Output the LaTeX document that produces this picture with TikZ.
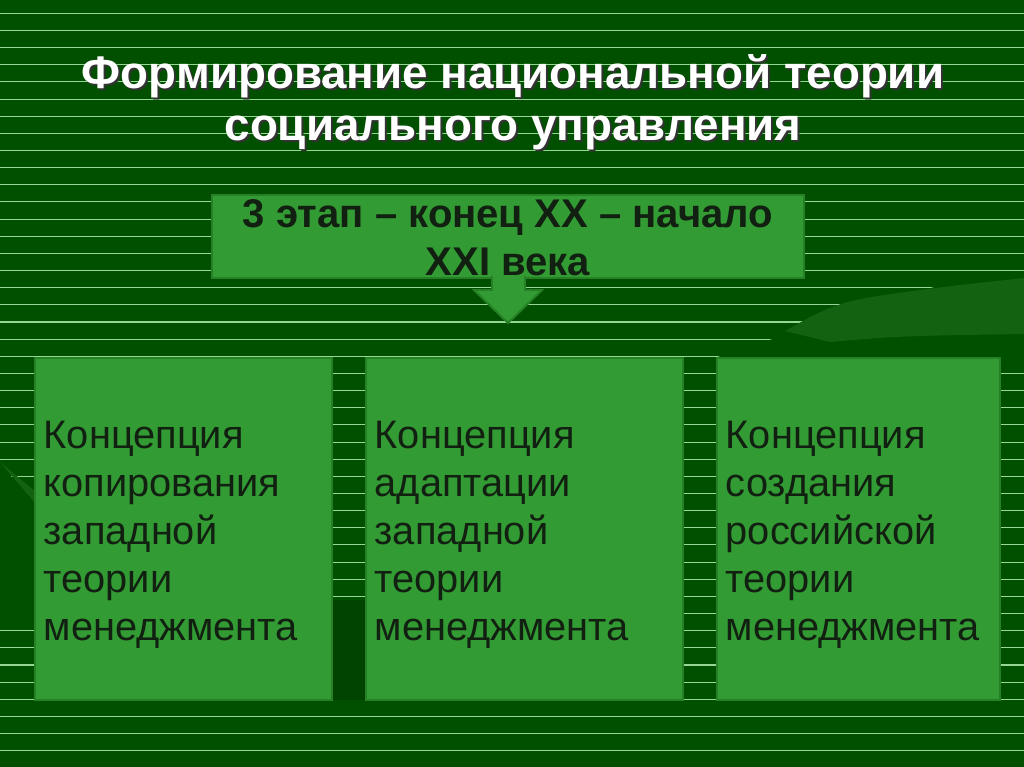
\documentclass[tikz,border=0pt]{standalone}
\usepackage{fontspec}
\setmainfont{Liberation Sans}
\usetikzlibrary{positioning}
\definecolor{slidebg}{RGB}{0,80,0}
\definecolor{stripegreen}{RGB}{150,215,150}
\definecolor{leafgreen}{RGB}{18,98,18}
\definecolor{boxgreen}{RGB}{51,155,51}
\definecolor{boxedge}{RGB}{38,128,38}
\definecolor{boxtext}{RGB}{18,32,18}
\begin{document}
\begin{tikzpicture}[x=0.025cm,y=-0.025cm,inner sep=0pt,outer sep=0pt,
	stripe/.style={draw=stripegreen,line width=0.75pt},
	conceptbox/.style={draw=boxedge,fill=boxgreen,line width=1.4pt,minimum height=8.55cm},
	concepttext/.style={align=left,text=boxtext,font=\fontsize{28.3}{34.1}\selectfont},
	stagebox/.style={draw=boxedge,fill=boxgreen,line width=1.4pt,minimum width=14.8cm,minimum height=2.075cm},
	stagefont/.style={align=center,text=boxtext,font=\fontsize{28.5}{34}\bfseries},
	titlefont/.style={align=center,font=\fontsize{32.5}{37}\bfseries}]
	\useasboundingbox (0,0) rectangle (1024,767);
	\clip (0,0) rectangle (1024,767);
	% background
	\fill[slidebg] (0,0) rectangle (1024,767);
	\foreach \k in {0,...,43}
		\draw[stripe] (0,{13.3+17.15*\k}) -- (1024,{13.3+17.15*\k});
	\fill[slidebg] (690,366) -- (800,330) .. controls (870,305) .. (945,284) -- (1024,279) -- (1024,366) -- cycle;
	\fill[leafgreen] (785,331) .. controls (840,300) .. (960,285) -- (1024,278) -- (1024,334) .. controls (900,336) .. (830,342) -- cycle;
	\fill[slidebg] (0,466) -- (36,500) -- (36,625) -- (0,625) -- cycle;
	\fill[leafgreen] (0,462) -- (36,492) -- (36,504) -- cycle;
	\fill[slidebg!85!black] (333,600) rectangle (366,700);
	% title
	\node[titlefont,text=black!80] (titleshadow) at (515,104) {Формирование национальной теории\\социального управления};
	\node[titlefont,text=white] (title) at (513,102) {Формирование национальной теории\\социального управления};
	% stage
	\node[stagebox] (stage) at (508,236.5) {};
	\draw[draw=boxedge,fill=boxgreen,line width=1.4pt] (stage.south) ++(-16,-2) -- ++(0,14) -- ++(-18,0) -- ++(34,33) -- ++(34,-33) -- ++(-17,0) -- ++(0,-14);
	\node[stagefont] (stagetext) at (508,238) {3 этап – конец XX – начало\\XXI века};
	% concepts
	\node[conceptbox,minimum width=7.425cm] (copy) at (183.5,529) {};
	\node[conceptbox,minimum width=7.925cm] (adapt) at (524.5,529) {};
	\node[conceptbox,minimum width=7.075cm] (create) at (858.5,529) {};
	\node[concepttext,text width=6.985cm,yshift=-4.3pt] (copytext) at (copy.center) {Концепция\\копирования\\западной\\теории\\менеджмента};
	\node[concepttext,text width=7.485cm,yshift=-4.3pt] (adapttext) at (adapt.center) {Концепция\\адаптации\\западной\\теории\\менеджмента};
	\node[concepttext,text width=6.635cm,yshift=-4.3pt] (createtext) at (create.center) {Концепция\\создания\\российской\\теории\\менеджмента};
\end{tikzpicture}
\end{document}
